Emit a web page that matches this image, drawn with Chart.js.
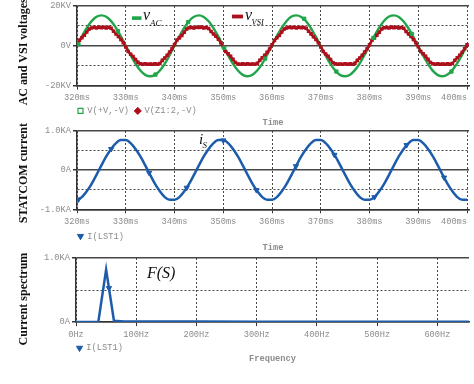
<!DOCTYPE html>
<html><head><meta charset="utf-8">
<script src="https://cdn.jsdelivr.net/npm/chart.js@4.4.1/dist/chart.umd.min.js"></script>
<style>
html,body{margin:0;padding:0;background:#fff;}
body{width:474px;height:384px;overflow:hidden;position:relative;}
canvas{position:absolute;left:0;}
</style></head>
<body>
<canvas id="c1" width="474" height="130" style="top:0px;width:474px;height:130px"></canvas>
<canvas id="c2" width="474" height="136" style="top:118px;width:474px;height:136px"></canvas>
<canvas id="c3" width="474" height="120" style="top:246px;width:474px;height:120px"></canvas>
<script>
// ---------------- data ----------------
const tMs = [320,321,322,323,324,325,326,327,328,329,330,331,332,333,334,335,336,337,338,339,
 340,341,342,343,344,345,346,347,348,349,350,351,352,353,354,355,356,357,358,359,
 360,361,362,363,364,365,366,367,368,369,370,371,372,373,374,375,376,377,378,379,
 380,381,382,383,384,385,386,387,388,389,390,391,392,393,394,395,396,397,398,399,400];
// v_AC  (kV)
const vAC = [0.3,4.8,9.0,12.4,14.6,15.3,14.6,12.4,9.0,4.8,0.1,-4.7,-9.0,-12.4,-14.6,-15.3,-14.6,-12.4,-9.0,-4.7,
 0.2,4.8,9.1,12.5,14.6,15.3,14.5,12.3,8.9,4.6,-0.1,-4.8,-9.1,-12.4,-14.6,-15.3,-14.5,-12.3,-8.9,-4.6,
 0.3,4.9,9.1,12.5,14.7,15.3,14.5,12.3,8.8,4.5,-0.2,-4.9,-9.2,-12.5,-14.7,-15.3,-14.5,-12.2,-8.8,-4.5,
 0.4,5.0,9.2,12.6,14.7,15.3,14.5,12.2,8.7,4.4,-0.3,-5.0,-9.2,-12.6,-14.7,-15.3,-14.4,-12.1,-8.7,-4.4,0.5];
// v_VSI (kV), sampled every 0.5 ms
const tVSI = [320,320.5,321,321.5,322,322.5,323,323.5,324,324.5,325,325.5,326,326.5,327,327.5,328,328.5,329,329.5,
 330,330.5,331,331.5,332,332.5,333,333.5,334,334.5,335,335.5,336,336.5,337,337.5,338,338.5,339,339.5,
 340,340.5,341,341.5,342,342.5,343,343.5,344,344.5,345,345.5,346,346.5,347,347.5,348,348.5,349,349.5,
 350,350.5,351,351.5,352,352.5,353,353.5,354,354.5,355,355.5,356,356.5,357,357.5,358,358.5,359,359.5,
 360,360.5,361,361.5,362,362.5,363,363.5,364,364.5,365,365.5,366,366.5,367,367.5,368,368.5,369,369.5,
 370,370.5,371,371.5,372,372.5,373,373.5,374,374.5,375,375.5,376,376.5,377,377.5,378,378.5,379,379.5,
 380,380.5,381,381.5,382,382.5,383,383.5,384,384.5,385,385.5,386,386.5,387,387.5,388,388.5,389,389.5,
 390,390.5,391,391.5,392,392.5,393,393.5,394,394.5,395,395.5,396,396.5,397,397.5,398,398.5,399,399.5,400];
const vVSI = [0.5,2.8,4.1,5.3,6.9,8.4,9.0,9.3,9.0,9.4,9.1,9.3,9.0,9.3,8.8,7.3,6.0,4.7,3.2,1.6,
 -0.6,-2.9,-4.2,-5.4,-6.9,-8.3,-9.0,-9.2,-9.0,-9.3,-9.1,-9.3,-9.0,-9.2,-8.9,-7.3,-6.1,-4.7,-3.1,-1.5,
 0.6,2.9,4.0,5.2,6.8,8.5,9.1,9.2,9.0,9.3,9.2,9.4,9.0,9.2,8.7,7.2,5.9,4.8,3.3,1.5,
 -0.5,-2.8,-4.0,-5.3,-6.8,-8.4,-9.1,-9.3,-9.0,-9.2,-9.0,-9.3,-9.1,-9.2,-8.8,-7.2,-6.0,-4.8,-3.2,-1.6,
 0.5,2.7,4.1,5.2,6.9,8.4,9.0,9.3,9.1,9.3,9.0,9.3,9.1,9.2,8.8,7.3,6.0,4.6,3.2,1.6,
 -0.6,-2.8,-4.1,-5.2,-6.9,-8.5,-9.0,-9.2,-9.1,-9.3,-9.0,-9.2,-9.0,-9.3,-8.8,-7.3,-6.1,-4.8,-3.1,-1.5,
 0.5,2.8,4.0,5.3,6.8,8.4,9.1,9.2,9.0,9.4,9.1,9.3,9.0,9.2,8.8,7.2,6.0,4.7,3.2,1.5,
 -0.5,-2.9,-4.0,-5.3,-6.8,-8.4,-9.0,-9.3,-9.0,-9.2,-9.1,-9.3,-9.0,-9.2,-8.9,-7.2,-6.0,-4.7,-3.2,-1.5,0.5];
// v_AC marker points
const mkACt = [320.3,328.4,336.1,342.8,350.2,358.6,366.6,373.2,380.8,388.7,396.8];
const mkACv = [0.8,7.4,-14.4,11.9,-1.0,-6.4,13.6,-12.9,4.0,6.0,-12.9];
// i_S (kA)
const iS = [-0.76,-0.69,-0.54,-0.35,-0.12,0.12,0.35,0.54,0.69,0.77,0.77,0.69,0.54,0.35,0.12,-0.12,-0.35,-0.54,-0.69,-0.76,
 -0.76,-0.69,-0.54,-0.35,-0.12,0.12,0.35,0.54,0.69,0.77,0.77,0.69,0.54,0.35,0.12,-0.12,-0.35,-0.54,-0.69,-0.76,
 -0.76,-0.69,-0.54,-0.35,-0.12,0.12,0.35,0.54,0.69,0.77,0.77,0.69,0.54,0.35,0.12,-0.12,-0.35,-0.54,-0.69,-0.76,
 -0.76,-0.69,-0.54,-0.35,-0.12,0.12,0.35,0.54,0.69,0.77,0.77,0.69,0.54,0.35,0.12,-0.12,-0.35,-0.54,-0.69,-0.76,-0.76];
const mkIt = [320.3,327.0,334.8,342.5,350.0,356.8,364.9,372.8,381.0,387.6,395.3];
const mkIv = [-0.75,0.54,-0.07,-0.45,0.76,-0.51,0.10,0.39,-0.69,0.64,-0.19];
// current spectrum
const fHz  = [0,20,37,50,63,80,100,200,300,400,500,600,652];
const specA = [0,0,0,0.82,0.02,0.01,0.01,0.01,0.005,0.005,0.005,0.005,0.005];
const mkFt = [54.7];
const mkFv = [0.53];
// axis tick labels
const yLab1 = {'20':'20KV','0':'0V','-20':'-20KV'};
const yLab2 = {'1':'1.0KA','0':'0A','-1':'-1.0KA'};
const yLab3 = {'1':'1.0KA','0':'0A'};

// ---------------- styling ----------------
const GREEN = '#22a54a', RED = '#ad101c', BLUE = '#1c5cab';
const GRAY = '#8c8c8c', GRID = '#474747', AXIS = '#333';
const MONO = {family:'"Liberation Mono", "DejaVu Sans Mono", monospace', size:8.7};
const pts = (xs, ys) => xs.map((x, i) => ({x, y: ys[i]}));

function annot(items, top) {
  return { id:'annot'+top, afterDatasetsDraw(chart) {
    const c = chart.ctx; c.save();
    items.forEach(it => {
      if (it.rect) { c.fillStyle = it.color; c.fillRect(it.x, it.y - top, it.w, it.h); }
      else { c.fillStyle = '#111'; c.font = it.font; c.textBaseline = 'alphabetic'; c.textAlign = 'left'; c.fillText(it.text, it.x, it.y - top); }
    });
    c.restore();
  }};
}

function makeChart(id, cfg) {
  const majors = cfg.majors;
  const isMajor = v => majors.some(m => Math.abs(m - v) < 1e-9);
  return new Chart(document.getElementById(id), {
    type: 'line',
    data: { datasets: cfg.datasets },
    plugins: [annot(cfg.annot, cfg.top)],
    options: {
      responsive:false, animation:false, devicePixelRatio:1,
      layout:{ padding:{ top:cfg.padTop, bottom:cfg.padBottom, left:0, right:0 } },
      plugins:{
        tooltip:{enabled:false},
        legend:{ position:'bottom', align:'start', fullSize:false, maxHeight:cfg.legendH,
          labels:{ usePointStyle:true, boxWidth:5, boxHeight:5, padding:1, color:GRAY, font:MONO,
            generateLabels: () => cfg.legend } },
        title:{ display:true, text:cfg.xTitle, position:'bottom', align:'center', fullSize:false,
          color:GRAY, font:MONO, padding:0 }
      },
      scales:{
        x:{ type:'linear', min:cfg.xmin, max:cfg.xmax,
          afterFit: s => { s.height = cfg.xH; s.paddingLeft = 0; s.paddingRight = 0; },
          ticks:{ stepSize:cfg.xstep, includeBounds:false, autoSkip:false, maxRotation:0, color:GRAY, font:MONO, padding:3,
            callback: cfg.xLabel },
          grid:{ color:GRID, lineWidth:1, tickLength:4, tickColor:AXIS, tickBorderDash:[] },
          border:{ color:AXIS, width:1.5, dash:[2,2] } },
        y:{ min:cfg.ymin, max:cfg.ymax,
          afterFit: s => { s.width = cfg.yW; s.paddingTop = 0; s.paddingBottom = 0; },
          ticks:{ stepSize:cfg.ystep, color:GRAY, font:MONO, padding:2,
            callback: v => cfg.yLab[String(v)] || '' },
          grid:{ color:GRID, lineWidth: c => (c.tick && isMajor(c.tick.value)) ? 1.5 : 1, tickLength:4,
            tickColor: c => (c.tick && isMajor(c.tick.value)) ? AXIS : 'rgba(0,0,0,0)' },
          border:{ color:AXIS, width:1.5, dash: c => (c.tick && !isMajor(c.tick.value)) ? [2,2] : [] },
          title:{ display:true, text:cfg.yTitle, color:'#111',
            font:{family:'"Liberation Serif", "Times New Roman", serif', size:12, weight:'bold'},
            padding:{top:17, bottom:0} } }
      }
    }
  });
}

const lineDs = (label, data, color, w, extra) => Object.assign({
  label, data, borderColor:color, backgroundColor:color, borderWidth:w, pointRadius:0, fill:false,
  cubicInterpolationMode:'monotone'}, extra || {});
const markDs = (data, color, style, r, extra) => Object.assign({
  data, showLine:false, borderColor:color, backgroundColor:color, pointStyle:style, pointRadius:r, pointBorderWidth:1}, extra || {});

// ---- panel 1 ----
makeChart('c1', {
  top:0, padTop:6, padBottom:2, xH:19.9, legendH:12, yW:77,
  xmin:320, xmax:400.4, xstep:10, xLabel: v => v === 400 ? '400ms     ' : v + 'ms',
  ymin:-20, ymax:20, ystep:10, yLab:yLab1, majors:[-20,0,20],
  yTitle:'AC and VSI voltages    ', xTitle:'Time',
  legend:[ {text:'V(+V,-V) ', pointStyle:'rect', fillStyle:'#fff', strokeStyle:GREEN, lineWidth:1.2, fontColor:GRAY},
           {text:'V(Z1:2,-V)', pointStyle:'rectRot', fillStyle:RED, strokeStyle:RED, lineWidth:1, fontColor:GRAY} ],
  datasets:[
    markDs(pts(mkACt, mkACv), GREEN, 'rect', 2.3, {order:0}),
    lineDs('V(Z1:2,-V)', pts(tVSI, vVSI), RED, 2.4, {cubicInterpolationMode:'default', tension:0, pointRadius:2.5, pointStyle:'rect', pointBorderWidth:0, order:1}),
    lineDs('V(+V,-V)', pts(tMs, vAC), GREEN, 2.4, {order:2})
  ],
  annot:[ {rect:true, x:132, y:16.3, w:9.5, h:3.6, color:GREEN},
          {text:'v', x:143, y:20, font:'italic 16px "Liberation Serif"'},
          {text:'AC', x:150, y:25.5, font:'italic 9px "Liberation Serif"'},
          {rect:true, x:232, y:14.6, w:11, h:3.8, color:RED},
          {text:'v', x:245, y:19.5, font:'italic 16px "Liberation Serif"'},
          {text:'VSI', x:251.5, y:25, font:'italic 8.5px "Liberation Serif"'} ]
});

// ---- panel 2 ----
makeChart('c2', {
  top:118, padTop:13, padBottom:0.8, xH:21.6, legendH:11.9, yW:77,
  xmin:320, xmax:400.4, xstep:10, xLabel: v => v === 400 ? '400ms     ' : v + 'ms',
  ymin:-1, ymax:1, ystep:0.5, yLab:yLab2, majors:[-1,0,1],
  yTitle:'STATCOM current  ', xTitle:'Time',
  legend:[ {text:'I(LST1)', pointStyle:'triangle', rotation:180, fillStyle:BLUE, strokeStyle:BLUE, lineWidth:1, fontColor:GRAY} ],
  datasets:[
    markDs(pts(mkIt, mkIv), BLUE, 'triangle', 3, {rotation:180, order:0}),
    lineDs('I(LST1)', pts(tMs, iS), BLUE, 2.5, {order:1})
  ],
  annot:[ {text:'i', x:199, y:144, font:'italic 15px "Liberation Serif"'},
          {text:'S', x:202.5, y:148, font:'italic 9px "Liberation Serif"'} ]
});

// ---- panel 3 ----
makeChart('c3', {
  top:246, padTop:12, padBottom:1.8, xH:20.6, legendH:11.1, yW:76,
  xmin:0, xmax:652.4, xstep:100, xLabel: v => v + 'Hz',
  ymin:0, ymax:1, ystep:0.5, yLab:yLab3, majors:[0,1],
  yTitle:'Current spectrum      ', xTitle:'Frequency',
  legend:[ {text:'I(LST1)', pointStyle:'triangle', rotation:180, fillStyle:BLUE, strokeStyle:BLUE, lineWidth:1, fontColor:GRAY} ],
  datasets:[
    markDs(pts(mkFt, mkFv), BLUE, 'triangle', 3, {rotation:180, order:0}),
    lineDs('I(LST1)', pts(fHz, specA), BLUE, 2.5, {cubicInterpolationMode:'default', tension:0, order:1})
  ],
  annot:[ {text:'F(S)', x:147, y:277.5, font:'italic 16px "Liberation Serif"'} ]
});
</script>
</body></html>
